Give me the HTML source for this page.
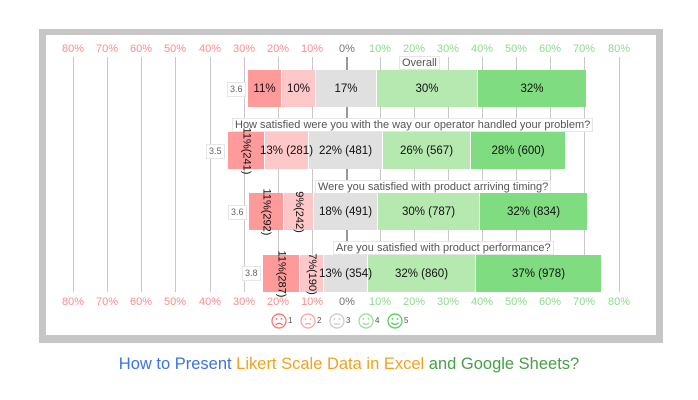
<!DOCTYPE html>
<html><head><meta charset="utf-8"><style>
*{margin:0;padding:0;box-sizing:border-box}
body{width:698px;height:400px;background:#fff;position:relative;overflow:hidden;font-family:"Liberation Sans",sans-serif}
.frame{position:absolute;left:39px;top:29px;width:624px;height:314px;background:#c6c6c6}
.inner{position:absolute;left:46px;top:35px;width:610px;height:300px;background:#fff}
.ax{position:absolute;font-size:11px;width:40px;text-align:center}
.gl{position:absolute;width:1px;background:#c8c8c8}
.seg{position:absolute;font-size:11.5px;color:#111;display:flex;align-items:center;justify-content:center;white-space:nowrap;overflow:visible}
.c1{background:#ff9a9a}.c2{background:#ffc8c8}.c3{background:#e0e0e0}.c4{background:#b5e9b0}.c5{background:#80dc80}
.vt{transform:rotate(90deg);font-size:11px;position:relative;z-index:3}
.tz{position:relative;z-index:3}
.ttl{position:absolute;font-size:11px;color:#555;background:#fff;border:1px solid #e6e6e6;padding:0 2px;line-height:12px;white-space:nowrap}
.sc{position:absolute;font-size:9px;color:#666;background:#fff;border:1px solid #e6e6e6;padding:1px 2px;line-height:11px}
.face{position:absolute;top:313px;width:16px;height:16px}
.fl{position:absolute;top:316px;font-size:8px;color:#555}
</style></head><body>
<div class="frame"></div><div class="inner"></div>

<div class="gl" style="left:73px;top:57px;height:235px"></div>
<div class="gl" style="left:107px;top:57px;height:235px"></div>
<div class="gl" style="left:141px;top:57px;height:235px"></div>
<div class="gl" style="left:175px;top:57px;height:235px"></div>
<div class="gl" style="left:210px;top:57px;height:235px"></div>
<div class="gl" style="left:244px;top:57px;height:235px"></div>
<div class="gl" style="left:278px;top:57px;height:235px"></div>
<div class="gl" style="left:312px;top:57px;height:235px"></div>
<div class="gl" style="left:346px;top:57px;height:235px;background:#999;width:2px"></div>
<div class="gl" style="left:380px;top:57px;height:235px"></div>
<div class="gl" style="left:414px;top:57px;height:235px"></div>
<div class="gl" style="left:448px;top:57px;height:235px"></div>
<div class="gl" style="left:482px;top:57px;height:235px"></div>
<div class="gl" style="left:516px;top:57px;height:235px"></div>
<div class="gl" style="left:550px;top:57px;height:235px"></div>
<div class="gl" style="left:584px;top:57px;height:235px"></div>
<div class="gl" style="left:619px;top:57px;height:235px"></div>

<div class="ax" style="left:53px;top:43px;color:#ff8c8c">80%</div>
<div class="ax" style="left:87px;top:43px;color:#ff8c8c">70%</div>
<div class="ax" style="left:121px;top:43px;color:#ff8c8c">60%</div>
<div class="ax" style="left:155px;top:43px;color:#ff8c8c">50%</div>
<div class="ax" style="left:190px;top:43px;color:#ff8c8c">40%</div>
<div class="ax" style="left:224px;top:43px;color:#ff8c8c">30%</div>
<div class="ax" style="left:258px;top:43px;color:#ff8c8c">20%</div>
<div class="ax" style="left:292px;top:43px;color:#ff8c8c">10%</div>
<div class="ax" style="left:327px;top:43px;color:#777">0%</div>
<div class="ax" style="left:360px;top:43px;color:#8cdc8c">10%</div>
<div class="ax" style="left:394px;top:43px;color:#8cdc8c">20%</div>
<div class="ax" style="left:428px;top:43px;color:#8cdc8c">30%</div>
<div class="ax" style="left:462px;top:43px;color:#8cdc8c">40%</div>
<div class="ax" style="left:496px;top:43px;color:#8cdc8c">50%</div>
<div class="ax" style="left:530px;top:43px;color:#8cdc8c">60%</div>
<div class="ax" style="left:564px;top:43px;color:#8cdc8c">70%</div>
<div class="ax" style="left:599px;top:43px;color:#8cdc8c">80%</div>

<div class="ax" style="left:53px;top:296px;color:#ff8c8c">80%</div>
<div class="ax" style="left:87px;top:296px;color:#ff8c8c">70%</div>
<div class="ax" style="left:121px;top:296px;color:#ff8c8c">60%</div>
<div class="ax" style="left:155px;top:296px;color:#ff8c8c">50%</div>
<div class="ax" style="left:190px;top:296px;color:#ff8c8c">40%</div>
<div class="ax" style="left:224px;top:296px;color:#ff8c8c">30%</div>
<div class="ax" style="left:258px;top:296px;color:#ff8c8c">20%</div>
<div class="ax" style="left:292px;top:296px;color:#ff8c8c">10%</div>
<div class="ax" style="left:327px;top:296px;color:#777">0%</div>
<div class="ax" style="left:360px;top:296px;color:#8cdc8c">10%</div>
<div class="ax" style="left:394px;top:296px;color:#8cdc8c">20%</div>
<div class="ax" style="left:428px;top:296px;color:#8cdc8c">30%</div>
<div class="ax" style="left:462px;top:296px;color:#8cdc8c">40%</div>
<div class="ax" style="left:496px;top:296px;color:#8cdc8c">50%</div>
<div class="ax" style="left:530px;top:296px;color:#8cdc8c">60%</div>
<div class="ax" style="left:564px;top:296px;color:#8cdc8c">70%</div>
<div class="ax" style="left:599px;top:296px;color:#8cdc8c">80%</div>

<div class="ttl" style="left:399px;top:56px">Overall</div>
<div class="sc" style="left:227px;top:82px">3.6</div>
<div class="seg c1" style="left:248px;top:70px;width:33px;height:37px">11%</div>
<div class="seg c2" style="left:282px;top:70px;width:33px;height:37px">10%</div>
<div class="seg c3" style="left:316px;top:70px;width:60px;height:37px">17%</div>
<div class="seg c4" style="left:377px;top:70px;width:100px;height:37px">30%</div>
<div class="seg c5" style="left:478px;top:70px;width:108px;height:37px">32%</div>

<div class="ttl" style="left:232px;top:118px">How satisfied were you with the way our operator handled your problem?</div>
<div class="sc" style="left:206px;top:144px">3.5</div>
<div class="seg c1" style="left:228px;top:132px;width:36px;height:37px"><span class="vt">11%(241)</span></div>
<div class="seg c3" style="left:309px;top:132px;width:73px;height:37px">22% (481)</div>
<div class="seg c2" style="left:265px;top:132px;width:43px;height:37px"><span class="tz">13% (281)</span></div>
<div class="seg c4" style="left:383px;top:132px;width:87px;height:37px">26% (567)</div>
<div class="seg c5" style="left:471px;top:132px;width:94px;height:37px">28% (600)</div>

<div class="ttl" style="left:315px;top:180px">Were you satisfied with product arriving timing?</div>
<div class="sc" style="left:228px;top:205px">3.6</div>
<div class="seg c1" style="left:249px;top:193px;width:34px;height:37px"><span class="vt">11%(292)</span></div>
<div class="seg c2" style="left:284px;top:193px;width:29px;height:37px"><span class="vt">9%(242)</span></div>
<div class="seg c3" style="left:314px;top:193px;width:63px;height:37px">18% (491)</div>
<div class="seg c4" style="left:378px;top:193px;width:101px;height:37px">30% (787)</div>
<div class="seg c5" style="left:480px;top:193px;width:107px;height:37px">32% (834)</div>

<div class="ttl" style="left:333px;top:241px">Are you satisfied with product performance?</div>
<div class="sc" style="left:242px;top:266px">3.8</div>
<div class="seg c1" style="left:263px;top:255px;width:36px;height:37px"><span class="vt">11%(287)</span></div>
<div class="seg c2" style="left:300px;top:255px;width:23px;height:37px"><span class="vt">7%(190)</span></div>
<div class="seg c4" style="left:368px;top:255px;width:107px;height:37px">32% (860)</div>
<div class="seg c3" style="left:324px;top:255px;width:43px;height:37px"><span class="tz">13% (354)</span></div>
<div class="seg c5" style="left:476px;top:255px;width:125px;height:37px">37% (978)</div>

<svg class="face" style="left:271px" viewBox="0 0 16 16"><circle cx="8" cy="8" r="7" fill="none" stroke="#ff6b6b" stroke-width="1.2"/><circle cx="5.5" cy="6" r=".9" fill="#ff6b6b"/><circle cx="10.5" cy="6" r=".9" fill="#ff6b6b"/><path d="M4.5 12 Q8 8.5 11.5 12" fill="none" stroke="#ff6b6b" stroke-width="1.2"/></svg>
<div class="fl" style="left:288px">1</div>
<svg class="face" style="left:300px" viewBox="0 0 16 16"><circle cx="8" cy="8" r="7" fill="none" stroke="#ffa0a0" stroke-width="1.2"/><circle cx="5.5" cy="6" r=".9" fill="#ffa0a0"/><circle cx="10.5" cy="6" r=".9" fill="#ffa0a0"/><path d="M5 11.5 Q8 9.5 11 11.5" fill="none" stroke="#ffa0a0" stroke-width="1.2"/></svg>
<div class="fl" style="left:317px">2</div>
<svg class="face" style="left:329px" viewBox="0 0 16 16"><circle cx="8" cy="8" r="7" fill="none" stroke="#c8c8c8" stroke-width="1.2"/><circle cx="5.5" cy="6" r=".9" fill="#c8c8c8"/><circle cx="10.5" cy="6" r=".9" fill="#c8c8c8"/><path d="M5 11 H11" stroke="#c8c8c8" stroke-width="1.2"/></svg>
<div class="fl" style="left:346px">3</div>
<svg class="face" style="left:358px" viewBox="0 0 16 16"><circle cx="8" cy="8" r="7" fill="none" stroke="#8ee08e" stroke-width="1.2"/><circle cx="5.5" cy="6" r=".9" fill="#8ee08e"/><circle cx="10.5" cy="6" r=".9" fill="#8ee08e"/><path d="M5 10 Q8 12.5 11 10" fill="none" stroke="#8ee08e" stroke-width="1.2"/></svg>
<div class="fl" style="left:375px">4</div>
<svg class="face" style="left:387px" viewBox="0 0 16 16"><circle cx="8" cy="8" r="7" fill="none" stroke="#4ccc4c" stroke-width="1.2"/><circle cx="5.5" cy="6" r=".9" fill="#4ccc4c"/><circle cx="10.5" cy="6" r=".9" fill="#4ccc4c"/><path d="M4.5 9.5 Q8 13.5 11.5 9.5" fill="none" stroke="#4ccc4c" stroke-width="1.2"/></svg>
<div class="fl" style="left:404px">5</div>

<div style="position:absolute;left:0;width:698px;top:355px;text-align:center;font-size:16.5px;white-space:nowrap"><span style="color:#3b72e6">How to Present </span><span style="color:#f4a11e">Likert Scale Data in Excel </span><span style="color:#46a046">and Google Sheets?</span></div>
</body></html>
